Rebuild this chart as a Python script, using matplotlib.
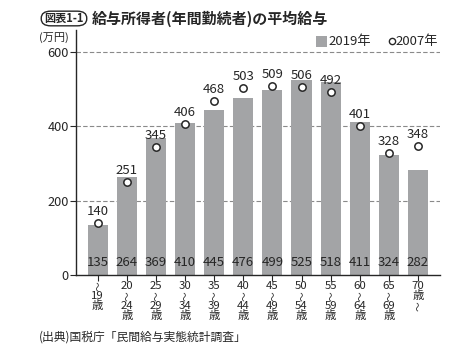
import matplotlib
matplotlib.use("Agg")
import matplotlib.pyplot as plt
from matplotlib.patches import FancyBboxPatch, Rectangle

plt.rcParams['font.family'] = ['Noto Sans CJK JP', 'DejaVu Sans']

# 年齢階層
age_top = ["", "20", "25", "30", "35", "40", "45", "50", "55", "60", "65", "70"]
age_bottom = ["19", "24", "29", "34", "39", "44", "49", "54", "59", "64", "69", ""]
salary_2019 = [135, 264, 369, 410, 445, 476, 499, 525, 518, 411, 324, 282]
salary_2007 = [140, 251, 345, 406, 468, 503, 509, 506, 492, 401, 328, 348]
y_ticks = [0, 200, 400, 600]

BAR = "#a3a4a6"
INK = "#262626"

fig = plt.figure(figsize=(4.74, 3.49), dpi=100)
ax = fig.add_axes([0.160, 0.212, 0.768, 0.703])

x = list(range(len(salary_2019)))
ax.bar(x, salary_2019, width=0.69, color=BAR, zorder=2)
ax.scatter(x, salary_2007, s=28, facecolor="white", edgecolor=INK,
           linewidth=1.1, zorder=4)

for xi, v in zip(x, salary_2019):
    ax.text(xi, 35, str(v), ha="center", va="center", fontsize=9.5,
            color=INK, zorder=5)
for xi, v in zip(x, salary_2007):
    ax.text(xi, v + 30, str(v), ha="center", va="center", fontsize=9.5,
            color=INK, zorder=5)

ax.set_xlim(-0.75, len(x) - 0.25)
ax.set_ylim(0, 660)
ax.set_yticks(y_ticks)
ax.set_yticklabels([str(t) for t in y_ticks], fontsize=9.2, color=INK)
for t in y_ticks[1:]:
    ax.axhline(t, color="#8a8a8a", linestyle=(0, (4, 2)), linewidth=0.8,
               zorder=1)

ax.spines["top"].set_visible(False)
ax.spines["right"].set_visible(False)
ax.spines["left"].set_color(INK)
ax.spines["bottom"].set_color(INK)
ax.spines["left"].set_linewidth(1.0)
ax.spines["bottom"].set_linewidth(1.0)
ax.tick_params(axis="y", length=4, width=0.8, color=INK, pad=1)
ax.set_xticks(x)
ax.set_xticklabels([])
ax.tick_params(axis="x", length=4, width=0.8, color=INK)

# 年齢ラベル（一行ずつ縦に積む、「〜」は縦向き）
line_h = 10.0 / 349
base = 1 - 286.0 / 349
for xi, top, bot in zip(x, age_top, age_bottom):
    xf = ax.transData.transform((xi, 0))[0] / fig.bbox.width
    if top == "":
        lines = ["〜", bot, "歳"]
    elif bot == "":
        lines = [top, "歳", "〜"]
    else:
        lines = [top, "〜", bot, "歳"]
    for k, s in enumerate(lines):
        if s == "〜":
            fig.text(xf, base - k * line_h, s, ha="center", va="center",
                     fontsize=7, color=INK, rotation=90)
        else:
            fig.text(xf, base - k * line_h, s, ha="center", va="center",
                     fontsize=8.2, color=INK)

# タイトル
tag = FancyBboxPatch((0.087, 0.926), 0.096, 0.042,
                     boxstyle="round,pad=0.0,rounding_size=0.02",
                     transform=fig.transFigure, facecolor="white",
                     edgecolor=INK, linewidth=1.0)
fig.patches.append(tag)
fig.text(0.135, 0.947, "図表1-1", fontsize=8, fontweight="bold", color=INK,
         ha="center", va="center")
fig.text(0.194, 0.947, "給与所得者(年間勤続者)の平均給与", fontsize=10.8,
         fontweight="bold", color=INK, ha="left", va="center")

fig.text(0.083, 0.893, "(万円)", fontsize=8, color=INK, ha="left",
         va="center")

# 凡例
fig.patches.append(Rectangle((0.666, 0.866), 0.023, 0.031,
                             transform=fig.transFigure, facecolor=BAR,
                             edgecolor="none"))
fig.text(0.692, 0.882, "2019年", fontsize=9.5, color=INK, ha="left",
         va="center")
fig.lines.append(plt.Line2D([0.826], [0.882], transform=fig.transFigure,
                            marker="o", markersize=4.5, markerfacecolor="white",
                            markeredgecolor=INK, markeredgewidth=1.0,
                            linestyle="none"))
fig.text(0.834, 0.882, "2007年", fontsize=9.5, color=INK, ha="left",
         va="center")

fig.text(0.083, 0.034, "(出典)国税庁「民間給与実態統計調査」", fontsize=8.5,
         color=INK, ha="left", va="center")

fig.savefig("out.png", dpi=100, facecolor="white")
